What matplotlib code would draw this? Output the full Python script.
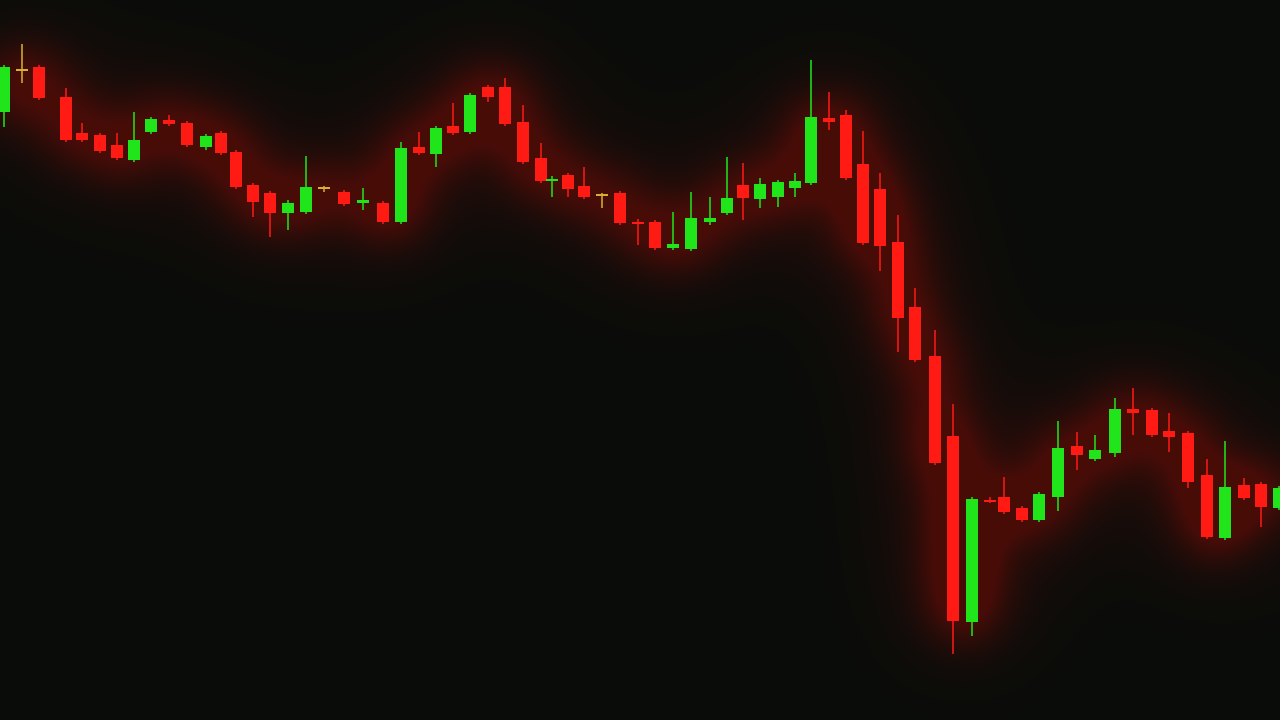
import numpy as np
import matplotlib
matplotlib.use("Agg")
import matplotlib.pyplot as plt

# candle positions along the time axis
t = [4, 22, 39, 66, 82, 100, 117, 134, 151, 169, 187, 206, 221, 236, 253, 270,
     288, 306, 324, 344, 363, 383, 401, 419, 436, 453, 470, 488, 505, 523, 541,
     552, 568, 584, 602, 620, 638, 655, 673, 691, 710, 727, 743, 760, 778, 795,
     811, 829, 846, 863, 880, 898, 915, 935, 953, 972, 990, 1004, 1022, 1039,
     1058, 1077, 1095, 1115, 1133, 1152, 1169, 1188, 1207, 1225, 1244, 1261, 1279]

opens = [608, 650, 653, 623, 587, 585, 575, 560, 588, 600, 597, 573, 587, 568,
         535, 527, 507, 508, 532, 528, 517, 517, 498, 573, 566, 594, 588, 633,
         633, 598, 562, 540, 545, 534, 525, 527, 499, 498, 472, 471, 498, 507,
         535, 521, 523, 532, 537, 602, 605, 556, 531, 478, 413, 364, 284, 98,
         221, 223, 212, 200, 223, 274, 261, 267, 311, 310, 289, 287, 245, 182,
         235, 236, 212]

highs = [655, 676, 655, 632, 597, 587, 587, 608, 603, 605, 599, 586, 589, 570,
         537, 529, 520, 564, 534, 530, 532, 519, 578, 588, 594, 617, 627, 635,
         642, 615, 577, 544, 547, 553, 527, 529, 501, 500, 508, 528, 523, 563,
         557, 542, 540, 547, 660, 628, 610, 589, 547, 505, 432, 390, 316, 223,
         223, 243, 214, 228, 299, 288, 285, 322, 332, 312, 307, 289, 261, 279,
         242, 238, 234]

lows = [593, 637, 620, 578, 578, 567, 560, 558, 586, 594, 573, 570, 565, 531,
        503, 483, 490, 506, 528, 514, 510, 496, 496, 565, 553, 585, 586, 618,
        594, 556, 537, 523, 523, 521, 512, 495, 475, 470, 470, 469, 495, 505,
        500, 512, 513, 523, 535, 590, 540, 475, 449, 368, 358, 255, 66, 84,
        217, 206, 198, 198, 209, 250, 259, 263, 285, 283, 268, 232, 181, 180,
        220, 193, 210]

closes = [653, 650, 622, 580, 580, 569, 562, 580, 601, 596, 575, 584, 567, 533,
          518, 507, 517, 533, 532, 516, 520, 498, 572, 567, 592, 587, 625, 623,
          596, 558, 539, 542, 531, 523, 525, 497, 497, 472, 476, 502, 502, 522,
          522, 536, 538, 539, 603, 598, 542, 477, 474, 402, 360, 257, 99, 221,
          219, 208, 200, 226, 272, 265, 270, 311, 307, 285, 283, 238, 183, 233,
          222, 213, 232]

bg = "#0a0c0a"
red = "#ff1a14"
green = "#1fe51a"
yellow = "#d8b030"

t_arr = np.array(t, dtype=float)
o = np.array(opens, dtype=float)
h = np.array(highs, dtype=float)
l = np.array(lows, dtype=float)
c = np.array(closes, dtype=float)

colors = np.where(c > o, green, np.where(c < o, red, yellow))

fig = plt.figure(figsize=(12.8, 7.2), dpi=100, facecolor=bg)
ax = fig.add_axes([0, 0, 1, 1])
ax.set_facecolor(bg)
ax.set_xlim(0, 1280)
ax.set_ylim(0, 720)
ax.axis("off")

# red haze behind the candles: blurred mask of the candle bodies
cell = 4
W, H = 1280 // cell, 720 // cell
mask = np.zeros((H, W))
for xi, oi, ci in zip(t_arr, o, c):
    x0 = max(int((xi - 8) / cell), 0)
    x1 = min(int((xi + 8) / cell) + 1, W)
    r0 = max(int(min(oi, ci) / cell) - 1, 0)
    r1 = min(int(max(oi, ci) / cell) + 2, H)
    mask[r0:r1, x0:x1] = 1.0

def smooth(arr, sigma):
    k = np.arange(-int(3 * sigma), int(3 * sigma) + 1)
    kern = np.exp(-0.5 * (k / sigma) ** 2)
    kern /= kern.sum()
    arr = np.apply_along_axis(lambda r: np.convolve(r, kern, mode="same"), 1, arr)
    return np.apply_along_axis(lambda r: np.convolve(r, kern, mode="same"), 0, arr)

glow = 0.6 * smooth(mask, 6.0) + 0.4 * smooth(mask, 14.0)
glow = np.clip(glow / glow.max() * 1.8, 0, 1)

rgba = np.zeros((H, W, 4))
rgba[..., 0] = 0.62
rgba[..., 1] = 0.05
rgba[..., 2] = 0.02
rgba[..., 3] = glow * 0.42
ax.imshow(rgba, extent=(0, 1280, 0, 720), origin="lower",
          interpolation="bilinear", aspect="auto", zorder=1)

# wicks
ax.vlines(t_arr, l, h, colors=colors, linewidth=1.3, alpha=0.85, zorder=3)

# bodies
body_low = np.minimum(o, c)
body_h = np.maximum(np.abs(c - o), 2.5)
ax.bar(t_arr, body_h, bottom=body_low - np.where(np.abs(c - o) < 2.5, 1.2, 0),
       width=12, color=colors, edgecolor="none", zorder=4)

fig.savefig("out.png", dpi=100, facecolor=bg)
